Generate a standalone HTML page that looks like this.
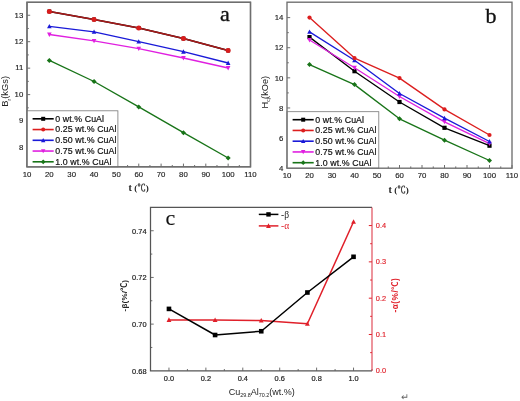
<!DOCTYPE html>
<html><head><meta charset="utf-8"><title>CuAl figure</title>
<style>
html,body{margin:0;padding:0;background:#fff;}
body{width:520px;height:401px;overflow:hidden;}
svg{display:block;}
</style></head>
<body>
<svg width="520" height="401" viewBox="0 0 520 401">
<rect width="520" height="401" fill="#fff"/>
<line x1="27.00" y1="166.8" x2="27.00" y2="163.60000000000002" stroke="#6e6e6e" stroke-width="1"/>
<line x1="38.17" y1="166.8" x2="38.17" y2="165.0" stroke="#6e6e6e" stroke-width="1"/>
<line x1="49.35" y1="166.8" x2="49.35" y2="163.60000000000002" stroke="#6e6e6e" stroke-width="1"/>
<line x1="60.52" y1="166.8" x2="60.52" y2="165.0" stroke="#6e6e6e" stroke-width="1"/>
<line x1="71.70" y1="166.8" x2="71.70" y2="163.60000000000002" stroke="#6e6e6e" stroke-width="1"/>
<line x1="82.88" y1="166.8" x2="82.88" y2="165.0" stroke="#6e6e6e" stroke-width="1"/>
<line x1="94.05" y1="166.8" x2="94.05" y2="163.60000000000002" stroke="#6e6e6e" stroke-width="1"/>
<line x1="105.22" y1="166.8" x2="105.22" y2="165.0" stroke="#6e6e6e" stroke-width="1"/>
<line x1="116.40" y1="166.8" x2="116.40" y2="163.60000000000002" stroke="#6e6e6e" stroke-width="1"/>
<line x1="127.58" y1="166.8" x2="127.58" y2="165.0" stroke="#6e6e6e" stroke-width="1"/>
<line x1="138.75" y1="166.8" x2="138.75" y2="163.60000000000002" stroke="#6e6e6e" stroke-width="1"/>
<line x1="149.93" y1="166.8" x2="149.93" y2="165.0" stroke="#6e6e6e" stroke-width="1"/>
<line x1="161.10" y1="166.8" x2="161.10" y2="163.60000000000002" stroke="#6e6e6e" stroke-width="1"/>
<line x1="172.28" y1="166.8" x2="172.28" y2="165.0" stroke="#6e6e6e" stroke-width="1"/>
<line x1="183.45" y1="166.8" x2="183.45" y2="163.60000000000002" stroke="#6e6e6e" stroke-width="1"/>
<line x1="194.62" y1="166.8" x2="194.62" y2="165.0" stroke="#6e6e6e" stroke-width="1"/>
<line x1="205.80" y1="166.8" x2="205.80" y2="163.60000000000002" stroke="#6e6e6e" stroke-width="1"/>
<line x1="216.97" y1="166.8" x2="216.97" y2="165.0" stroke="#6e6e6e" stroke-width="1"/>
<line x1="228.15" y1="166.8" x2="228.15" y2="163.60000000000002" stroke="#6e6e6e" stroke-width="1"/>
<line x1="239.32" y1="166.8" x2="239.32" y2="165.0" stroke="#6e6e6e" stroke-width="1"/>
<line x1="250.50" y1="166.8" x2="250.50" y2="163.60000000000002" stroke="#6e6e6e" stroke-width="1"/>
<line x1="27.0" y1="160.72" x2="28.8" y2="160.72" stroke="#6e6e6e" stroke-width="1"/>
<line x1="27.0" y1="147.50" x2="30.2" y2="147.50" stroke="#6e6e6e" stroke-width="1"/>
<line x1="27.0" y1="134.27" x2="28.8" y2="134.27" stroke="#6e6e6e" stroke-width="1"/>
<line x1="27.0" y1="121.05" x2="30.2" y2="121.05" stroke="#6e6e6e" stroke-width="1"/>
<line x1="27.0" y1="107.83" x2="28.8" y2="107.83" stroke="#6e6e6e" stroke-width="1"/>
<line x1="27.0" y1="94.60" x2="30.2" y2="94.60" stroke="#6e6e6e" stroke-width="1"/>
<line x1="27.0" y1="81.38" x2="28.8" y2="81.38" stroke="#6e6e6e" stroke-width="1"/>
<line x1="27.0" y1="68.15" x2="30.2" y2="68.15" stroke="#6e6e6e" stroke-width="1"/>
<line x1="27.0" y1="54.92" x2="28.8" y2="54.92" stroke="#6e6e6e" stroke-width="1"/>
<line x1="27.0" y1="41.70" x2="30.2" y2="41.70" stroke="#6e6e6e" stroke-width="1"/>
<line x1="27.0" y1="28.48" x2="28.8" y2="28.48" stroke="#6e6e6e" stroke-width="1"/>
<line x1="27.0" y1="15.25" x2="30.2" y2="15.25" stroke="#6e6e6e" stroke-width="1"/>
<text x="23.3" y="149.80" text-anchor="end" font-size="7.8" font-family="'Liberation Sans', Arial, sans-serif" fill="#222" stroke="#222" stroke-width="0.15">8</text>
<text x="23.3" y="123.35" text-anchor="end" font-size="7.8" font-family="'Liberation Sans', Arial, sans-serif" fill="#222" stroke="#222" stroke-width="0.15">9</text>
<text x="23.3" y="96.90" text-anchor="end" font-size="7.8" font-family="'Liberation Sans', Arial, sans-serif" fill="#222" stroke="#222" stroke-width="0.15">10</text>
<text x="23.3" y="70.45" text-anchor="end" font-size="7.8" font-family="'Liberation Sans', Arial, sans-serif" fill="#222" stroke="#222" stroke-width="0.15">11</text>
<text x="23.3" y="44.00" text-anchor="end" font-size="7.8" font-family="'Liberation Sans', Arial, sans-serif" fill="#222" stroke="#222" stroke-width="0.15">12</text>
<text x="23.3" y="17.55" text-anchor="end" font-size="7.8" font-family="'Liberation Sans', Arial, sans-serif" fill="#222" stroke="#222" stroke-width="0.15">13</text>
<text x="27.00" y="176.6" text-anchor="middle" font-size="7.8" font-family="'Liberation Sans', Arial, sans-serif" fill="#222" stroke="#222" stroke-width="0.15">10</text>
<text x="49.35" y="176.6" text-anchor="middle" font-size="7.8" font-family="'Liberation Sans', Arial, sans-serif" fill="#222" stroke="#222" stroke-width="0.15">20</text>
<text x="71.70" y="176.6" text-anchor="middle" font-size="7.8" font-family="'Liberation Sans', Arial, sans-serif" fill="#222" stroke="#222" stroke-width="0.15">30</text>
<text x="94.05" y="176.6" text-anchor="middle" font-size="7.8" font-family="'Liberation Sans', Arial, sans-serif" fill="#222" stroke="#222" stroke-width="0.15">40</text>
<text x="116.40" y="176.6" text-anchor="middle" font-size="7.8" font-family="'Liberation Sans', Arial, sans-serif" fill="#222" stroke="#222" stroke-width="0.15">50</text>
<text x="138.75" y="176.6" text-anchor="middle" font-size="7.8" font-family="'Liberation Sans', Arial, sans-serif" fill="#222" stroke="#222" stroke-width="0.15">60</text>
<text x="161.10" y="176.6" text-anchor="middle" font-size="7.8" font-family="'Liberation Sans', Arial, sans-serif" fill="#222" stroke="#222" stroke-width="0.15">70</text>
<text x="183.45" y="176.6" text-anchor="middle" font-size="7.8" font-family="'Liberation Sans', Arial, sans-serif" fill="#222" stroke="#222" stroke-width="0.15">80</text>
<text x="205.80" y="176.6" text-anchor="middle" font-size="7.8" font-family="'Liberation Sans', Arial, sans-serif" fill="#222" stroke="#222" stroke-width="0.15">90</text>
<text x="228.15" y="176.6" text-anchor="middle" font-size="7.8" font-family="'Liberation Sans', Arial, sans-serif" fill="#222" stroke="#222" stroke-width="0.15">100</text>
<text x="250.50" y="176.6" text-anchor="middle" font-size="7.8" font-family="'Liberation Sans', Arial, sans-serif" fill="#222" stroke="#222" stroke-width="0.15">110</text>
<polyline points="49.35,11.40 94.05,19.40 138.75,28.00 183.45,38.50 228.15,50.50" fill="none" stroke="#000" stroke-width="1.5" stroke-linejoin="round"/><rect x="47.45" y="9.50" width="3.80" height="3.80" fill="#000"/><rect x="92.15" y="17.50" width="3.80" height="3.80" fill="#000"/><rect x="136.85" y="26.10" width="3.80" height="3.80" fill="#000"/><rect x="181.55" y="36.60" width="3.80" height="3.80" fill="#000"/><rect x="226.25" y="48.60" width="3.80" height="3.80" fill="#000"/>
<polyline points="49.35,11.40 94.05,19.40 138.75,28.00 183.45,38.50 228.15,50.50" fill="none" stroke="#a81a1a" stroke-width="1.5" stroke-linejoin="round"/><circle cx="49.35" cy="11.40" r="0.10" fill="#a81a1a"/><circle cx="94.05" cy="19.40" r="0.10" fill="#a81a1a"/><circle cx="138.75" cy="28.00" r="0.10" fill="#a81a1a"/><circle cx="183.45" cy="38.50" r="0.10" fill="#a81a1a"/><circle cx="228.15" cy="50.50" r="0.10" fill="#a81a1a"/>
<circle cx="49.35" cy="11.40" r="2.50" fill="#d81c1c"/>
<circle cx="94.05" cy="19.40" r="2.50" fill="#d81c1c"/>
<circle cx="138.75" cy="28.00" r="2.50" fill="#d81c1c"/>
<circle cx="183.45" cy="38.50" r="2.50" fill="#d81c1c"/>
<circle cx="228.15" cy="50.50" r="2.50" fill="#d81c1c"/>
<polyline points="49.35,26.30 94.05,31.90 138.75,41.60 183.45,51.70 228.15,63.00" fill="none" stroke="#1a1ad8" stroke-width="1.35" stroke-linejoin="round"/><polygon points="49.35,23.89 51.66,28.23 47.04,28.23" fill="#1a1ad8"/><polygon points="94.05,29.48 96.36,33.83 91.74,33.83" fill="#1a1ad8"/><polygon points="138.75,39.19 141.06,43.53 136.44,43.53" fill="#1a1ad8"/><polygon points="183.45,49.29 185.76,53.63 181.14,53.63" fill="#1a1ad8"/><polygon points="228.15,60.59 230.46,64.93 225.84,64.93" fill="#1a1ad8"/>
<polyline points="49.35,34.50 94.05,40.90 138.75,48.60 183.45,58.00 228.15,68.00" fill="none" stroke="#e020e0" stroke-width="1.35" stroke-linejoin="round"/><polygon points="49.35,36.91 51.66,32.57 47.04,32.57" fill="#e020e0"/><polygon points="94.05,43.31 96.36,38.97 91.74,38.97" fill="#e020e0"/><polygon points="138.75,51.02 141.06,46.67 136.44,46.67" fill="#e020e0"/><polygon points="183.45,60.41 185.76,56.07 181.14,56.07" fill="#e020e0"/><polygon points="228.15,70.42 230.46,66.07 225.84,66.07" fill="#e020e0"/>
<polyline points="49.35,60.40 94.05,81.50 138.75,106.90 183.45,132.70 228.15,158.00" fill="none" stroke="#187418" stroke-width="1.35" stroke-linejoin="round"/><polygon points="49.35,57.88 51.87,60.40 49.35,62.92 46.83,60.40" fill="#187418"/><polygon points="94.05,78.98 96.57,81.50 94.05,84.02 91.53,81.50" fill="#187418"/><polygon points="138.75,104.38 141.27,106.90 138.75,109.42 136.23,106.90" fill="#187418"/><polygon points="183.45,130.18 185.97,132.70 183.45,135.22 180.93,132.70" fill="#187418"/><polygon points="228.15,155.48 230.67,158.00 228.15,160.52 225.63,158.00" fill="#187418"/>
<rect x="27.0" y="2.3" width="223.5" height="164.5" fill="none" stroke="#6e6e6e" stroke-width="1.35"/>
<rect x="27.0" y="110.8" width="90.9" height="56.000000000000014" fill="#fff" stroke="#777" stroke-width="0.8"/><line x1="32.6" y1="118.80" x2="53.7" y2="118.80" stroke="#000000" stroke-width="1.6"/><rect x="41.20" y="116.80" width="4.00" height="4.00" fill="#000000"/><text x="55.3" y="121.70" font-size="8.8" font-family="'Liberation Sans', Arial, sans-serif" fill="#111" stroke="#111" stroke-width="0.2" letter-spacing="0.08">0 wt.% CuAl</text><line x1="32.6" y1="129.55" x2="53.7" y2="129.55" stroke="#dc1e1e" stroke-width="1.6"/><circle cx="43.20" cy="129.55" r="2.00" fill="#dc1e1e"/><text x="55.3" y="132.45" font-size="8.8" font-family="'Liberation Sans', Arial, sans-serif" fill="#111" stroke="#111" stroke-width="0.2" letter-spacing="0.08">0.25 wt.% CuAl</text><line x1="32.6" y1="140.30" x2="53.7" y2="140.30" stroke="#1a1ad8" stroke-width="1.6"/><polygon points="43.20,138.00 45.40,142.14 41.00,142.14" fill="#1a1ad8"/><text x="55.3" y="143.20" font-size="8.8" font-family="'Liberation Sans', Arial, sans-serif" fill="#111" stroke="#111" stroke-width="0.2" letter-spacing="0.08">0.50 wt.% CuAl</text><line x1="32.6" y1="151.05" x2="53.7" y2="151.05" stroke="#e020e0" stroke-width="1.6"/><polygon points="43.20,153.35 45.40,149.21 41.00,149.21" fill="#e020e0"/><text x="55.3" y="153.95" font-size="8.8" font-family="'Liberation Sans', Arial, sans-serif" fill="#111" stroke="#111" stroke-width="0.2" letter-spacing="0.08">0.75 wt.% CuAl</text><line x1="32.6" y1="161.80" x2="53.7" y2="161.80" stroke="#187418" stroke-width="1.6"/><polygon points="43.20,159.40 45.60,161.80 43.20,164.20 40.80,161.80" fill="#187418"/><text x="55.3" y="164.70" font-size="8.8" font-family="'Liberation Sans', Arial, sans-serif" fill="#111" stroke="#111" stroke-width="0.2" letter-spacing="0.08">1.0 wt.% CuAl</text>
<rect x="27.0" y="2.3" width="223.5" height="164.5" fill="none" stroke="#6e6e6e" stroke-width="1.35"/>
<text x="220" y="21" font-size="22" font-family="'Liberation Serif', 'Times New Roman', serif" fill="#111" stroke="#111" stroke-width="0.35">a</text>
<text transform="translate(8.4,106.8) rotate(-90)" font-size="9.4" font-family="'Liberation Sans', Arial, sans-serif" fill="#222">B<tspan font-size="5" dy="2.2">r</tspan><tspan dy="-2.2">(kGs)</tspan></text>
<text x="128.6" y="190.6" font-size="9.1" font-family="'Liberation Serif', 'Noto Serif CJK SC', serif" fill="#222"><tspan font-weight="bold" font-size="10">t</tspan><tspan font-weight="bold"> (</tspan><tspan font-size="8.6" stroke="#333" stroke-width="0.3">℃</tspan><tspan font-weight="bold">)</tspan></text>
<line x1="287.00" y1="168.2" x2="287.00" y2="165.0" stroke="#6e6e6e" stroke-width="1"/>
<line x1="298.25" y1="168.2" x2="298.25" y2="166.39999999999998" stroke="#6e6e6e" stroke-width="1"/>
<line x1="309.50" y1="168.2" x2="309.50" y2="165.0" stroke="#6e6e6e" stroke-width="1"/>
<line x1="320.75" y1="168.2" x2="320.75" y2="166.39999999999998" stroke="#6e6e6e" stroke-width="1"/>
<line x1="332.00" y1="168.2" x2="332.00" y2="165.0" stroke="#6e6e6e" stroke-width="1"/>
<line x1="343.25" y1="168.2" x2="343.25" y2="166.39999999999998" stroke="#6e6e6e" stroke-width="1"/>
<line x1="354.50" y1="168.2" x2="354.50" y2="165.0" stroke="#6e6e6e" stroke-width="1"/>
<line x1="365.75" y1="168.2" x2="365.75" y2="166.39999999999998" stroke="#6e6e6e" stroke-width="1"/>
<line x1="377.00" y1="168.2" x2="377.00" y2="165.0" stroke="#6e6e6e" stroke-width="1"/>
<line x1="388.25" y1="168.2" x2="388.25" y2="166.39999999999998" stroke="#6e6e6e" stroke-width="1"/>
<line x1="399.50" y1="168.2" x2="399.50" y2="165.0" stroke="#6e6e6e" stroke-width="1"/>
<line x1="410.75" y1="168.2" x2="410.75" y2="166.39999999999998" stroke="#6e6e6e" stroke-width="1"/>
<line x1="422.00" y1="168.2" x2="422.00" y2="165.0" stroke="#6e6e6e" stroke-width="1"/>
<line x1="433.25" y1="168.2" x2="433.25" y2="166.39999999999998" stroke="#6e6e6e" stroke-width="1"/>
<line x1="444.50" y1="168.2" x2="444.50" y2="165.0" stroke="#6e6e6e" stroke-width="1"/>
<line x1="455.75" y1="168.2" x2="455.75" y2="166.39999999999998" stroke="#6e6e6e" stroke-width="1"/>
<line x1="467.00" y1="168.2" x2="467.00" y2="165.0" stroke="#6e6e6e" stroke-width="1"/>
<line x1="478.25" y1="168.2" x2="478.25" y2="166.39999999999998" stroke="#6e6e6e" stroke-width="1"/>
<line x1="489.50" y1="168.2" x2="489.50" y2="165.0" stroke="#6e6e6e" stroke-width="1"/>
<line x1="500.75" y1="168.2" x2="500.75" y2="166.39999999999998" stroke="#6e6e6e" stroke-width="1"/>
<line x1="512.00" y1="168.2" x2="512.00" y2="165.0" stroke="#6e6e6e" stroke-width="1"/>
<line x1="287.0" y1="153.14" x2="288.8" y2="153.14" stroke="#6e6e6e" stroke-width="1"/>
<line x1="287.0" y1="138.08" x2="290.2" y2="138.08" stroke="#6e6e6e" stroke-width="1"/>
<line x1="287.0" y1="123.02" x2="288.8" y2="123.02" stroke="#6e6e6e" stroke-width="1"/>
<line x1="287.0" y1="107.96" x2="290.2" y2="107.96" stroke="#6e6e6e" stroke-width="1"/>
<line x1="287.0" y1="92.90" x2="288.8" y2="92.90" stroke="#6e6e6e" stroke-width="1"/>
<line x1="287.0" y1="77.84" x2="290.2" y2="77.84" stroke="#6e6e6e" stroke-width="1"/>
<line x1="287.0" y1="62.78" x2="288.8" y2="62.78" stroke="#6e6e6e" stroke-width="1"/>
<line x1="287.0" y1="47.72" x2="290.2" y2="47.72" stroke="#6e6e6e" stroke-width="1"/>
<line x1="287.0" y1="32.66" x2="288.8" y2="32.66" stroke="#6e6e6e" stroke-width="1"/>
<line x1="287.0" y1="17.60" x2="290.2" y2="17.60" stroke="#6e6e6e" stroke-width="1"/>
<text x="283.4" y="170.90" text-anchor="end" font-size="7.8" font-family="'Liberation Sans', Arial, sans-serif" fill="#222" stroke="#222" stroke-width="0.15">4</text>
<text x="283.4" y="140.78" text-anchor="end" font-size="7.8" font-family="'Liberation Sans', Arial, sans-serif" fill="#222" stroke="#222" stroke-width="0.15">6</text>
<text x="283.4" y="110.66" text-anchor="end" font-size="7.8" font-family="'Liberation Sans', Arial, sans-serif" fill="#222" stroke="#222" stroke-width="0.15">8</text>
<text x="283.4" y="80.54" text-anchor="end" font-size="7.8" font-family="'Liberation Sans', Arial, sans-serif" fill="#222" stroke="#222" stroke-width="0.15">10</text>
<text x="283.4" y="50.42" text-anchor="end" font-size="7.8" font-family="'Liberation Sans', Arial, sans-serif" fill="#222" stroke="#222" stroke-width="0.15">12</text>
<text x="283.4" y="20.30" text-anchor="end" font-size="7.8" font-family="'Liberation Sans', Arial, sans-serif" fill="#222" stroke="#222" stroke-width="0.15">14</text>
<text x="287.00" y="177.8" text-anchor="middle" font-size="7.8" font-family="'Liberation Sans', Arial, sans-serif" fill="#222" stroke="#222" stroke-width="0.15">10</text>
<text x="309.50" y="177.8" text-anchor="middle" font-size="7.8" font-family="'Liberation Sans', Arial, sans-serif" fill="#222" stroke="#222" stroke-width="0.15">20</text>
<text x="332.00" y="177.8" text-anchor="middle" font-size="7.8" font-family="'Liberation Sans', Arial, sans-serif" fill="#222" stroke="#222" stroke-width="0.15">30</text>
<text x="354.50" y="177.8" text-anchor="middle" font-size="7.8" font-family="'Liberation Sans', Arial, sans-serif" fill="#222" stroke="#222" stroke-width="0.15">40</text>
<text x="377.00" y="177.8" text-anchor="middle" font-size="7.8" font-family="'Liberation Sans', Arial, sans-serif" fill="#222" stroke="#222" stroke-width="0.15">50</text>
<text x="399.50" y="177.8" text-anchor="middle" font-size="7.8" font-family="'Liberation Sans', Arial, sans-serif" fill="#222" stroke="#222" stroke-width="0.15">60</text>
<text x="422.00" y="177.8" text-anchor="middle" font-size="7.8" font-family="'Liberation Sans', Arial, sans-serif" fill="#222" stroke="#222" stroke-width="0.15">70</text>
<text x="444.50" y="177.8" text-anchor="middle" font-size="7.8" font-family="'Liberation Sans', Arial, sans-serif" fill="#222" stroke="#222" stroke-width="0.15">80</text>
<text x="467.00" y="177.8" text-anchor="middle" font-size="7.8" font-family="'Liberation Sans', Arial, sans-serif" fill="#222" stroke="#222" stroke-width="0.15">90</text>
<text x="489.50" y="177.8" text-anchor="middle" font-size="7.8" font-family="'Liberation Sans', Arial, sans-serif" fill="#222" stroke="#222" stroke-width="0.15">100</text>
<text x="512.00" y="177.8" text-anchor="middle" font-size="7.8" font-family="'Liberation Sans', Arial, sans-serif" fill="#222" stroke="#222" stroke-width="0.15">110</text>
<polyline points="309.50,64.60 354.50,84.60 399.50,118.80 444.50,140.20 489.50,160.50" fill="none" stroke="#187418" stroke-width="1.35" stroke-linejoin="round"/><polygon points="309.50,62.08 312.02,64.60 309.50,67.12 306.98,64.60" fill="#187418"/><polygon points="354.50,82.08 357.02,84.60 354.50,87.12 351.98,84.60" fill="#187418"/><polygon points="399.50,116.28 402.02,118.80 399.50,121.32 396.98,118.80" fill="#187418"/><polygon points="444.50,137.68 447.02,140.20 444.50,142.72 441.98,140.20" fill="#187418"/><polygon points="489.50,157.98 492.02,160.50 489.50,163.02 486.98,160.50" fill="#187418"/>
<polyline points="309.50,37.10 354.50,71.20 399.50,102.00 444.50,127.80 489.50,145.70" fill="none" stroke="#000000" stroke-width="1.35" stroke-linejoin="round"/><rect x="307.40" y="35.00" width="4.20" height="4.20" fill="#000000"/><rect x="352.40" y="69.10" width="4.20" height="4.20" fill="#000000"/><rect x="397.40" y="99.90" width="4.20" height="4.20" fill="#000000"/><rect x="442.40" y="125.70" width="4.20" height="4.20" fill="#000000"/><rect x="487.40" y="143.60" width="4.20" height="4.20" fill="#000000"/>
<polyline points="309.50,40.00 354.50,67.80 399.50,96.50 444.50,121.80 489.50,143.70" fill="none" stroke="#e020e0" stroke-width="1.35" stroke-linejoin="round"/><polygon points="309.50,42.41 311.81,38.07 307.19,38.07" fill="#e020e0"/><polygon points="354.50,70.22 356.81,65.87 352.19,65.87" fill="#e020e0"/><polygon points="399.50,98.92 401.81,94.57 397.19,94.57" fill="#e020e0"/><polygon points="444.50,124.22 446.81,119.87 442.19,119.87" fill="#e020e0"/><polygon points="489.50,146.11 491.81,141.77 487.19,141.77" fill="#e020e0"/>
<polyline points="309.50,31.90 354.50,60.20 399.50,93.50 444.50,118.20 489.50,141.50" fill="none" stroke="#1a1ad8" stroke-width="1.35" stroke-linejoin="round"/><polygon points="309.50,29.48 311.81,33.83 307.19,33.83" fill="#1a1ad8"/><polygon points="354.50,57.79 356.81,62.13 352.19,62.13" fill="#1a1ad8"/><polygon points="399.50,91.08 401.81,95.43 397.19,95.43" fill="#1a1ad8"/><polygon points="444.50,115.78 446.81,120.13 442.19,120.13" fill="#1a1ad8"/><polygon points="489.50,139.09 491.81,143.43 487.19,143.43" fill="#1a1ad8"/>
<polyline points="309.50,17.60 354.50,58.10 399.50,78.10 444.50,109.40 489.50,135.00" fill="none" stroke="#dc1e1e" stroke-width="1.35" stroke-linejoin="round"/><circle cx="309.50" cy="17.60" r="2.10" fill="#dc1e1e"/><circle cx="354.50" cy="58.10" r="2.10" fill="#dc1e1e"/><circle cx="399.50" cy="78.10" r="2.10" fill="#dc1e1e"/><circle cx="444.50" cy="109.40" r="2.10" fill="#dc1e1e"/><circle cx="489.50" cy="135.00" r="2.10" fill="#dc1e1e"/>
<rect x="287.0" y="111.7" width="91.80000000000001" height="56.499999999999986" fill="#fff" stroke="#777" stroke-width="0.8"/><line x1="292.6" y1="119.70" x2="313.7" y2="119.70" stroke="#000000" stroke-width="1.6"/><rect x="301.20" y="117.70" width="4.00" height="4.00" fill="#000000"/><text x="315.3" y="122.60" font-size="8.8" font-family="'Liberation Sans', Arial, sans-serif" fill="#111" stroke="#111" stroke-width="0.2" letter-spacing="0.08">0 wt.% CuAl</text><line x1="292.6" y1="130.45" x2="313.7" y2="130.45" stroke="#dc1e1e" stroke-width="1.6"/><circle cx="303.20" cy="130.45" r="2.00" fill="#dc1e1e"/><text x="315.3" y="133.35" font-size="8.8" font-family="'Liberation Sans', Arial, sans-serif" fill="#111" stroke="#111" stroke-width="0.2" letter-spacing="0.08">0.25 wt.% CuAl</text><line x1="292.6" y1="141.20" x2="313.7" y2="141.20" stroke="#1a1ad8" stroke-width="1.6"/><polygon points="303.20,138.90 305.40,143.04 301.00,143.04" fill="#1a1ad8"/><text x="315.3" y="144.10" font-size="8.8" font-family="'Liberation Sans', Arial, sans-serif" fill="#111" stroke="#111" stroke-width="0.2" letter-spacing="0.08">0.50 wt.% CuAl</text><line x1="292.6" y1="151.95" x2="313.7" y2="151.95" stroke="#e020e0" stroke-width="1.6"/><polygon points="303.20,154.25 305.40,150.11 301.00,150.11" fill="#e020e0"/><text x="315.3" y="154.85" font-size="8.8" font-family="'Liberation Sans', Arial, sans-serif" fill="#111" stroke="#111" stroke-width="0.2" letter-spacing="0.08">0.75 wt.% CuAl</text><line x1="292.6" y1="162.70" x2="313.7" y2="162.70" stroke="#187418" stroke-width="1.6"/><polygon points="303.20,160.30 305.60,162.70 303.20,165.10 300.80,162.70" fill="#187418"/><text x="315.3" y="165.60" font-size="8.8" font-family="'Liberation Sans', Arial, sans-serif" fill="#111" stroke="#111" stroke-width="0.2" letter-spacing="0.08">1.0 wt.% CuAl</text>
<rect x="287.0" y="2.2" width="225.0" height="166.0" fill="none" stroke="#6e6e6e" stroke-width="1.35"/>
<text x="485.6" y="23.2" font-size="22" font-family="'Liberation Serif', 'Times New Roman', serif" fill="#111" stroke="#111" stroke-width="0.35">b</text>
<text transform="translate(267.6,108.4) rotate(-90)" font-size="9.2" font-family="'Liberation Sans', Arial, sans-serif" fill="#222">H<tspan font-size="4.8" dy="2.4">cj</tspan><tspan dy="-2.4" dx="-0.6">(kOe)</tspan></text>
<text x="388.6" y="193.4" font-size="9.1" font-family="'Liberation Serif', 'Noto Serif CJK SC', serif" fill="#222"><tspan font-weight="bold" font-size="10">t</tspan><tspan font-weight="bold"> (</tspan><tspan font-size="8.6" stroke="#333" stroke-width="0.3">℃</tspan><tspan font-weight="bold">)</tspan></text>
<line x1="150.50" y1="370.8" x2="150.50" y2="369.0" stroke="#6e6e6e" stroke-width="1"/>
<line x1="168.96" y1="370.8" x2="168.96" y2="367.6" stroke="#6e6e6e" stroke-width="1"/>
<line x1="187.42" y1="370.8" x2="187.42" y2="369.0" stroke="#6e6e6e" stroke-width="1"/>
<line x1="205.88" y1="370.8" x2="205.88" y2="367.6" stroke="#6e6e6e" stroke-width="1"/>
<line x1="224.33" y1="370.8" x2="224.33" y2="369.0" stroke="#6e6e6e" stroke-width="1"/>
<line x1="242.79" y1="370.8" x2="242.79" y2="367.6" stroke="#6e6e6e" stroke-width="1"/>
<line x1="261.25" y1="370.8" x2="261.25" y2="369.0" stroke="#6e6e6e" stroke-width="1"/>
<line x1="279.71" y1="370.8" x2="279.71" y2="367.6" stroke="#6e6e6e" stroke-width="1"/>
<line x1="298.17" y1="370.8" x2="298.17" y2="369.0" stroke="#6e6e6e" stroke-width="1"/>
<line x1="316.62" y1="370.8" x2="316.62" y2="367.6" stroke="#6e6e6e" stroke-width="1"/>
<line x1="335.08" y1="370.8" x2="335.08" y2="369.0" stroke="#6e6e6e" stroke-width="1"/>
<line x1="353.54" y1="370.8" x2="353.54" y2="367.6" stroke="#6e6e6e" stroke-width="1"/>
<line x1="372.00" y1="370.8" x2="372.00" y2="369.0" stroke="#6e6e6e" stroke-width="1"/>
<line x1="150.5" y1="347.46" x2="152.3" y2="347.46" stroke="#6e6e6e" stroke-width="1"/>
<line x1="150.5" y1="324.11" x2="153.7" y2="324.11" stroke="#6e6e6e" stroke-width="1"/>
<line x1="150.5" y1="300.77" x2="152.3" y2="300.77" stroke="#6e6e6e" stroke-width="1"/>
<line x1="150.5" y1="277.43" x2="153.7" y2="277.43" stroke="#6e6e6e" stroke-width="1"/>
<line x1="150.5" y1="254.09" x2="152.3" y2="254.09" stroke="#6e6e6e" stroke-width="1"/>
<line x1="150.5" y1="230.74" x2="153.7" y2="230.74" stroke="#6e6e6e" stroke-width="1"/>
<line x1="372.0" y1="352.64" x2="370.2" y2="352.64" stroke="#e0202a" stroke-width="1"/>
<line x1="372.0" y1="334.49" x2="368.8" y2="334.49" stroke="#e0202a" stroke-width="1"/>
<line x1="372.0" y1="316.33" x2="370.2" y2="316.33" stroke="#e0202a" stroke-width="1"/>
<line x1="372.0" y1="298.18" x2="368.8" y2="298.18" stroke="#e0202a" stroke-width="1"/>
<line x1="372.0" y1="280.02" x2="370.2" y2="280.02" stroke="#e0202a" stroke-width="1"/>
<line x1="372.0" y1="261.87" x2="368.8" y2="261.87" stroke="#e0202a" stroke-width="1"/>
<line x1="372.0" y1="243.71" x2="370.2" y2="243.71" stroke="#e0202a" stroke-width="1"/>
<line x1="372.0" y1="225.56" x2="368.8" y2="225.56" stroke="#e0202a" stroke-width="1"/>
<text x="146.5" y="373.70" text-anchor="end" font-size="7.4" font-family="'Liberation Sans', Arial, sans-serif" fill="#222" stroke="#222" stroke-width="0.2">0.68</text>
<text x="146.5" y="327.01" text-anchor="end" font-size="7.4" font-family="'Liberation Sans', Arial, sans-serif" fill="#222" stroke="#222" stroke-width="0.2">0.70</text>
<text x="146.5" y="280.33" text-anchor="end" font-size="7.4" font-family="'Liberation Sans', Arial, sans-serif" fill="#222" stroke="#222" stroke-width="0.2">0.72</text>
<text x="146.5" y="233.64" text-anchor="end" font-size="7.4" font-family="'Liberation Sans', Arial, sans-serif" fill="#222" stroke="#222" stroke-width="0.2">0.74</text>
<text x="375.8" y="373.40" font-size="7.4" font-family="'Liberation Sans', Arial, sans-serif" fill="#e0202a" stroke="#e0202a" stroke-width="0.15">0.0</text>
<text x="375.8" y="337.09" font-size="7.4" font-family="'Liberation Sans', Arial, sans-serif" fill="#e0202a" stroke="#e0202a" stroke-width="0.15">0.1</text>
<text x="375.8" y="300.78" font-size="7.4" font-family="'Liberation Sans', Arial, sans-serif" fill="#e0202a" stroke="#e0202a" stroke-width="0.15">0.2</text>
<text x="375.8" y="264.47" font-size="7.4" font-family="'Liberation Sans', Arial, sans-serif" fill="#e0202a" stroke="#e0202a" stroke-width="0.15">0.3</text>
<text x="375.8" y="228.16" font-size="7.4" font-family="'Liberation Sans', Arial, sans-serif" fill="#e0202a" stroke="#e0202a" stroke-width="0.15">0.4</text>
<text x="168.96" y="380.8" text-anchor="middle" font-size="7.4" font-family="'Liberation Sans', Arial, sans-serif" fill="#222" stroke="#222" stroke-width="0.2">0.0</text>
<text x="205.88" y="380.8" text-anchor="middle" font-size="7.4" font-family="'Liberation Sans', Arial, sans-serif" fill="#222" stroke="#222" stroke-width="0.2">0.2</text>
<text x="242.79" y="380.8" text-anchor="middle" font-size="7.4" font-family="'Liberation Sans', Arial, sans-serif" fill="#222" stroke="#222" stroke-width="0.2">0.4</text>
<text x="279.71" y="380.8" text-anchor="middle" font-size="7.4" font-family="'Liberation Sans', Arial, sans-serif" fill="#222" stroke="#222" stroke-width="0.2">0.6</text>
<text x="316.62" y="380.8" text-anchor="middle" font-size="7.4" font-family="'Liberation Sans', Arial, sans-serif" fill="#222" stroke="#222" stroke-width="0.2">0.8</text>
<text x="353.54" y="380.8" text-anchor="middle" font-size="7.4" font-family="'Liberation Sans', Arial, sans-serif" fill="#222" stroke="#222" stroke-width="0.2">1.0</text>
<polyline points="168.96,319.90 215.10,320.00 261.25,320.50 307.40,323.75 353.54,221.80" fill="none" stroke="#e0202a" stroke-width="1.5" stroke-linejoin="round"/><polygon points="168.96,317.37 171.38,321.92 166.54,321.92" fill="#e0202a"/><polygon points="215.10,317.47 217.52,322.02 212.68,322.02" fill="#e0202a"/><polygon points="261.25,317.97 263.67,322.52 258.83,322.52" fill="#e0202a"/><polygon points="307.40,321.22 309.82,325.77 304.98,325.77" fill="#e0202a"/><polygon points="353.54,219.27 355.96,223.82 351.12,223.82" fill="#e0202a"/>
<polyline points="168.96,308.90 215.10,335.00 261.25,331.25 307.40,292.50 353.54,256.80" fill="none" stroke="#000" stroke-width="1.5" stroke-linejoin="round"/><rect x="166.66" y="306.60" width="4.60" height="4.60" fill="#000"/><rect x="212.80" y="332.70" width="4.60" height="4.60" fill="#000"/><rect x="258.95" y="328.95" width="4.60" height="4.60" fill="#000"/><rect x="305.10" y="290.20" width="4.60" height="4.60" fill="#000"/><rect x="351.24" y="254.50" width="4.60" height="4.60" fill="#000"/>
<polyline points="372.0,207.4 150.5,207.4 150.5,370.8 372.0,370.8" fill="none" stroke="#555" stroke-width="1.25"/>
<line x1="372.0" y1="207.4" x2="372.0" y2="370.8" stroke="#dc3444" stroke-width="1.05"/>
<line x1="258.8" y1="214.4" x2="278.4" y2="214.4" stroke="#000" stroke-width="1.5"/>
<rect x="266.30" y="212.20" width="4.40" height="4.40" fill="#000"/>
<text x="281" y="217.6" font-size="9.5" font-family="'Liberation Serif', 'Times New Roman', serif" fill="#222">-β</text>
<line x1="258.8" y1="225.9" x2="278.4" y2="225.9" stroke="#e0202a" stroke-width="1.5"/>
<polygon points="268.50,223.37 270.92,227.92 266.08,227.92" fill="#e0202a"/>
<text x="281" y="229" font-size="9.5" font-family="'Liberation Serif', 'Times New Roman', serif" fill="#e0202a">-α</text>
<text x="165.6" y="225" font-size="22" font-family="'Liberation Serif', 'Times New Roman', serif" fill="#111" stroke="#111" stroke-width="0.1">c</text>
<text transform="translate(127.0,311.4) rotate(-90)" font-size="8" letter-spacing="0.2" font-family="'Liberation Sans', 'Noto Sans CJK SC', sans-serif" font-weight="bold" fill="#222">-β(%/℃)</text>
<text transform="translate(397.9,312.4) rotate(-90)" font-size="8.3" letter-spacing="0.45" font-family="'Liberation Sans', 'Noto Sans CJK SC', sans-serif" font-weight="bold" fill="#e0202a">-α(%/℃)</text>
<text x="228.7" y="394.5" font-size="9" font-family="'Liberation Sans', Arial, sans-serif" fill="#222">Cu<tspan font-size="5.4" dy="2">29.8</tspan><tspan dy="-2">Al</tspan><tspan font-size="5.4" dy="2">70.2</tspan><tspan dy="-2">(wt.%)</tspan></text>
<text x="401.2" y="399.6" font-size="9.5" font-family="'DejaVu Sans', sans-serif" fill="#666">↵</text>
</svg>
</body></html>
